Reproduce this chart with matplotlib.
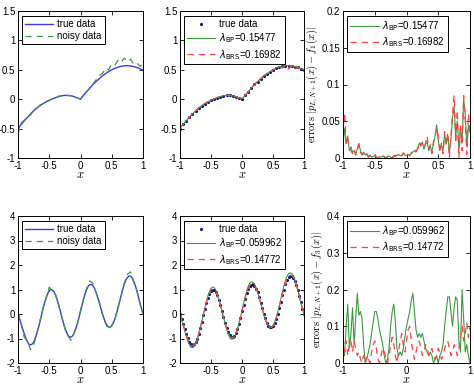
import matplotlib
matplotlib.use("Agg")
import matplotlib.pyplot as plt
import numpy as np

plt.rcParams['font.family'] = ['Liberation Sans', 'DejaVu Sans']
plt.rcParams['font.size'] = 7

# x grids
x41 = np.linspace(-1, 1, 41)
x81 = np.linspace(-1, 1, 81)

# ---- test function 1 (top row) ----
f1_true = [-0.50, -0.43, -0.37, -0.31, -0.25, -0.20, -0.15, -0.11, -0.075, -0.045,
           -0.02, 0.005, 0.025, 0.045, 0.058, 0.065, 0.065, 0.058, 0.042, 0.022,
           0.00, 0.07, 0.13, 0.19, 0.25, 0.30, 0.35, 0.395, 0.435, 0.47,
           0.50, 0.525, 0.545, 0.56, 0.568, 0.57, 0.566, 0.555, 0.54, 0.52, 0.495]
f1_noisy = [-0.60, -0.40, -0.36, -0.30, -0.27, -0.19, -0.16, -0.10, -0.08, -0.04,
            -0.02, 0.01, 0.02, 0.05, 0.06, 0.07, 0.06, 0.06, 0.04, 0.02,
            0.00, 0.07, 0.14, 0.18, 0.26, 0.33, 0.40, 0.44, 0.52, 0.50,
            0.60, 0.58, 0.66, 0.62, 0.70, 0.64, 0.68, 0.60, 0.62, 0.56, 0.60]
f1_bp = [-0.49, -0.43, -0.36, -0.31, -0.25, -0.20, -0.15, -0.11, -0.07, -0.045,
         -0.02, 0.005, 0.03, 0.045, 0.06, 0.065, 0.066, 0.058, 0.04, 0.02,
         0.01, 0.06, 0.13, 0.19, 0.25, 0.30, 0.35, 0.40, 0.43, 0.47,
         0.50, 0.53, 0.55, 0.56, 0.57, 0.57, 0.57, 0.55, 0.55, 0.52, 0.50]
f1_brs = [-0.48, -0.43, -0.37, -0.31, -0.25, -0.20, -0.15, -0.11, -0.075, -0.045,
          -0.02, 0.005, 0.025, 0.045, 0.058, 0.065, 0.064, 0.058, 0.042, 0.02,
          0.01, 0.07, 0.12, 0.20, 0.24, 0.31, 0.34, 0.40, 0.43, 0.47,
          0.50, 0.52, 0.55, 0.53, 0.57, 0.51, 0.57, 0.50, 0.55, 0.49, 0.52]
err1_bp = [0.020, 0.040, 0.020, 0.030, 0.010, 0.015, 0.008, 0.010, 0.005, 0.012,
           0.020, 0.010, 0.005, 0.008, 0.004, 0.006, 0.002, 0.004, 0.001, 0.002,
           0.003, 0.001, 0.000, 0.002, 0.001, 0.003, 0.002, 0.000, 0.001, 0.003,
           0.001, 0.000, 0.002, 0.004, 0.003, 0.005, 0.003, 0.004, 0.006, 0.004,
           0.003, 0.005, 0.004, 0.006, 0.008, 0.010, 0.008, 0.013, 0.020, 0.016,
           0.022, 0.012, 0.018, 0.022, 0.010, 0.016, 0.008, 0.020, 0.030, 0.045,
           0.025, 0.010, 0.018, 0.010, 0.032, 0.020, 0.030, 0.008, 0.025, 0.055,
           0.070, 0.030, 0.050, 0.012, 0.040, 0.020, 0.080, 0.060, 0.015, 0.045, 0.035]
err1_brs = [0.035, 0.062, 0.018, 0.025, 0.012, 0.010, 0.006, 0.012, 0.004, 0.010,
            0.018, 0.008, 0.004, 0.006, 0.003, 0.005, 0.001, 0.003, 0.002, 0.001,
            0.004, 0.002, 0.000, 0.001, 0.002, 0.004, 0.001, 0.000, 0.002, 0.002,
            0.000, 0.001, 0.003, 0.002, 0.004, 0.003, 0.005, 0.003, 0.007, 0.005,
            0.004, 0.006, 0.003, 0.007, 0.009, 0.012, 0.010, 0.012, 0.022, 0.018,
            0.020, 0.014, 0.020, 0.030, 0.012, 0.018, 0.006, 0.022, 0.028, 0.040,
            0.030, 0.008, 0.020, 0.006, 0.036, 0.018, 0.035, 0.000, 0.030, 0.060,
            0.085, 0.020, 0.065, 0.000, 0.045, 0.010, 0.085, 0.050, 0.005, 0.060, 0.040]

# ---- test function 3 (bottom row) ----
f3_true = [0.00, -0.19, -0.39, -0.61, -0.81, -0.99, -1.13, -1.23, -1.26, -1.23,
           -1.15, -1.00, -0.81, -0.58, -0.33, -0.06, 0.21, 0.45, 0.67, 0.83,
           0.95, 1.00, 0.98, 0.91, 0.78, 0.59, 0.38, 0.14, -0.11, -0.35,
           -0.56, -0.74, -0.87, -0.94, -0.94, -0.89, -0.77, -0.60, -0.39, -0.15,
           0.11, 0.37, 0.62, 0.84, 1.01, 1.14, 1.20, 1.21, 1.15, 1.04,
           0.88, 0.68, 0.46, 0.23, 0.01, -0.18, -0.35, -0.47, -0.53, -0.54,
           -0.48, -0.37, -0.20, 0.01, 0.25, 0.50, 0.76, 1.00, 1.21, 1.38,
           1.49, 1.55, 1.55, 1.48, 1.35, 1.18, 0.96, 0.72, 0.47, 0.22, 0.00]
f3_noisy = [0.05, -0.42, -0.95, -1.10, -1.45, -1.28, -0.80, -0.30, 0.25, 0.62,
            1.10, 0.95, 0.80, 0.35, -0.12, -0.60, -0.90, -1.08, -0.75, -0.42,
            0.12, 0.60, 1.05, 1.35, 1.25, 0.85, 0.50, 0.02, -0.38, -0.65,
            -0.45, -0.22, 0.28, 0.72, 1.25, 1.62, 1.72, 1.30, 0.98, 0.45, 0.02]
f3_bp = [-0.05, -0.22, -0.45, -0.68, -0.90, -1.10, -1.25, -1.35, -1.38, -1.34,
         -1.24, -1.07, -0.86, -0.60, -0.33, -0.04, 0.24, 0.50, 0.74, 0.92,
         1.05, 1.10, 1.08, 0.99, 0.84, 0.63, 0.40, 0.15, -0.11, -0.37,
         -0.60, -0.80, -0.95, -1.02, -1.02, -0.96, -0.82, -0.62, -0.39, -0.13,
         0.14, 0.42, 0.69, 0.93, 1.13, 1.26, 1.31, 1.30, 1.22, 1.09,
         0.91, 0.69, 0.46, 0.22, -0.01, -0.20, -0.37, -0.49, -0.55, -0.54,
         -0.47, -0.34, -0.16, 0.06, 0.32, 0.60, 0.88, 1.14, 1.36, 1.53,
         1.64, 1.68, 1.66, 1.57, 1.42, 1.22, 0.98, 0.72, 0.46, 0.20, -0.03]
f3_brs = [0.02, -0.17, -0.41, -0.63, -0.84, -1.02, -1.16, -1.26, -1.29, -1.26,
          -1.17, -1.02, -0.82, -0.58, -0.32, -0.05, 0.22, 0.47, 0.69, 0.86,
          0.98, 1.03, 1.01, 0.93, 0.79, 0.60, 0.38, 0.13, -0.12, -0.37,
          -0.58, -0.76, -0.90, -0.97, -0.96, -0.90, -0.78, -0.60, -0.38, -0.14,
          0.12, 0.39, 0.65, 0.87, 1.04, 1.17, 1.24, 1.24, 1.17, 1.06,
          0.89, 0.68, 0.45, 0.22, 0.00, -0.19, -0.36, -0.49, -0.55, -0.55,
          -0.49, -0.37, -0.19, 0.03, 0.27, 0.53, 0.79, 1.03, 1.25, 1.42,
          1.53, 1.58, 1.58, 1.51, 1.37, 1.19, 0.97, 0.72, 0.46, 0.21, 0.01]
err3_bp = [0.05, 0.02, 0.10, 0.16, 0.04, 0.08, 0.15, 0.05, 0.12, 0.19,
           0.13, 0.14, 0.12, 0.05, 0.00, 0.01, 0.03, 0.05, 0.08, 0.11,
           0.14, 0.14, 0.12, 0.09, 0.07, 0.05, 0.02, 0.00, 0.01, 0.04,
           0.10, 0.14, 0.16, 0.11, 0.04, 0.02, 0.03, 0.02, 0.04, 0.07,
           0.10, 0.12, 0.14, 0.17, 0.19, 0.14, 0.09, 0.07, 0.08, 0.07,
           0.08, 0.06, 0.04, 0.03, 0.02, 0.03, 0.02, 0.00, 0.01, 0.02,
           0.00, 0.02, 0.03, 0.05, 0.10, 0.14, 0.18, 0.18, 0.14, 0.10,
           0.15, 0.18, 0.17, 0.06, 0.03, 0.20, 0.12, 0.03, 0.05, 0.02, 0.00]
err3_brs = [0.07, 0.03, 0.06, 0.02, 0.05, 0.06, 0.03, 0.06, 0.04, 0.02,
            0.03, 0.01, 0.00, 0.02, 0.00, 0.02, 0.01, 0.00, 0.03, 0.05,
            0.06, 0.04, 0.01, 0.00, 0.02, 0.04, 0.03, 0.01, 0.00, 0.02,
            0.05, 0.07, 0.05, 0.02, 0.00, 0.03, 0.06, 0.08, 0.05, 0.03,
            0.06, 0.09, 0.10, 0.06, 0.03, 0.01, 0.03, 0.05, 0.06, 0.04,
            0.02, 0.03, 0.05, 0.04, 0.02, 0.03, 0.04, 0.02, 0.01, 0.02,
            0.04, 0.03, 0.01, 0.02, 0.04, 0.05, 0.06, 0.04, 0.02, 0.03,
            0.05, 0.04, 0.02, 0.04, 0.07, 0.10, 0.06, 0.08, 0.11, 0.07, 0.10]

lab_bp1, lab_brs1 = r'$\lambda_{\mathrm{BP}}$=0.15477', r'$\lambda_{\mathrm{BRS}}$=0.16982'
lab_bp3, lab_brs3 = r'$\lambda_{\mathrm{BP}}$=0.059962', r'$\lambda_{\mathrm{BRS}}$=0.14772'

BLUE = '#3a3ae8'
DOT = '#10108a'
GREEN = '#3c9a3c'
RED = '#ff4040'

fig = plt.figure(figsize=(4.74, 3.87), dpi=100)
W, H = 474, 387


def make_ax(l, r, t, b):
    ax = fig.add_axes([l / W, 1 - b / H, (r - l) / W, (b - t) / H])
    ax.tick_params(direction='in', top=True, right=True, length=3, width=0.6, pad=2, labelsize=7)
    for s in ax.spines.values():
        s.set_linewidth(0.7)
    ax.set_xlim(-1, 1)
    ax.set_xlabel('$x$', math_fontfamily='cm', fontsize=9, labelpad=-1)
    return ax


def set_ticks(ax, xt, yt):
    ax.set_xticks(xt)
    ax.set_xticklabels([f'{v:g}' for v in xt])
    ax.set_yticks(yt)
    ax.set_yticklabels([f'{v:g}' for v in yt])


def legend(ax):
    leg = ax.legend(loc='upper left', bbox_to_anchor=(0.035, 0.965), borderaxespad=0,
                    fontsize=7, handlelength=2.9, handletextpad=0.4, borderpad=0.3,
                    labelspacing=0.25, fancybox=False, framealpha=1)
    leg.get_frame().set_edgecolor('black')
    leg.get_frame().set_linewidth(0.7)


rows = [(11, 158), (216, 363)]
cols = [(18, 143), (180, 304), (343, 470)]
xt_full = [-1, -0.5, 0, 0.5, 1]
yt_f1 = [-1, -0.5, 0, 0.5, 1, 1.5]
yt_f3 = [-2, -1, 0, 1, 2, 3, 4]

# top row
ax = make_ax(cols[0][0], cols[0][1], *rows[0])
ax.plot(x41, f1_true, color=BLUE, lw=1.0, label='true data')
ax.plot(x41, f1_noisy, color=GREEN, lw=0.9, ls=(0, (5, 4)), label='noisy data')
ax.set_ylim(-1, 1.5)
set_ticks(ax, xt_full, yt_f1)
legend(ax)

ax = make_ax(cols[1][0], cols[1][1], *rows[0])
ax.plot(x41, f1_true, ls='none', marker='.', ms=2.5, color=DOT, label='true data')
ax.plot(x41, f1_bp, color=GREEN, lw=0.8, label=lab_bp1)
ax.plot(x41, f1_brs, color=RED, lw=0.9, ls=(0, (5, 4)), label=lab_brs1)
ax.set_ylim(-1, 1.5)
set_ticks(ax, xt_full, yt_f1)
legend(ax)

ax = make_ax(cols[2][0], cols[2][1], *rows[0])
ax.plot(x81, err1_bp, color=GREEN, lw=0.8, label=lab_bp1)
ax.plot(x81, err1_brs, color=RED, lw=0.9, ls=(0, (5, 4)), label=lab_brs1)
ax.set_ylim(0, 0.2)
set_ticks(ax, xt_full, [0, 0.05, 0.1, 0.15, 0.2])
ax.set_ylabel(r'$\mathrm{errors}\ |p_{L,N+1}(x)-f_1(x)|$', math_fontfamily='cm',
              fontsize=7.5, labelpad=1)
legend(ax)

# bottom row
ax = make_ax(cols[0][0], cols[0][1], *rows[1])
ax.plot(x81, f3_true, color=BLUE, lw=1.0, label='true data')
ax.plot(x41, f3_noisy, color=GREEN, lw=0.9, ls=(0, (5, 4)), label='noisy data')
ax.set_ylim(-2, 4)
set_ticks(ax, xt_full, yt_f3)
legend(ax)

ax = make_ax(cols[1][0], cols[1][1], *rows[1])
ax.plot(x81, f3_true, ls='none', marker='.', ms=2.5, color=DOT, label='true data')
ax.plot(x81, f3_bp, color=GREEN, lw=0.8, label=lab_bp3)
ax.plot(x81, f3_brs, color=RED, lw=0.9, ls=(0, (5, 4)), label=lab_brs3)
ax.set_ylim(-2, 4)
set_ticks(ax, [-0.5, 0, 0.5, 1], yt_f3)
legend(ax)

ax = make_ax(cols[2][0], cols[2][1], *rows[1])
ax.plot(x81, err3_bp, color=GREEN, lw=0.8, label=lab_bp3)
ax.plot(x81, err3_brs, color=RED, lw=0.9, ls=(0, (5, 4)), label=lab_brs3)
ax.set_ylim(0, 0.4)
set_ticks(ax, [-1, 0, 1], [0, 0.1, 0.2, 0.3, 0.4])
ax.set_ylabel(r'$\mathrm{errors}\ |p_{L,N+1}(x)-f_3(x)|$', math_fontfamily='cm',
              fontsize=7.5, labelpad=1)
legend(ax)

fig.savefig('out.png', dpi=100)
